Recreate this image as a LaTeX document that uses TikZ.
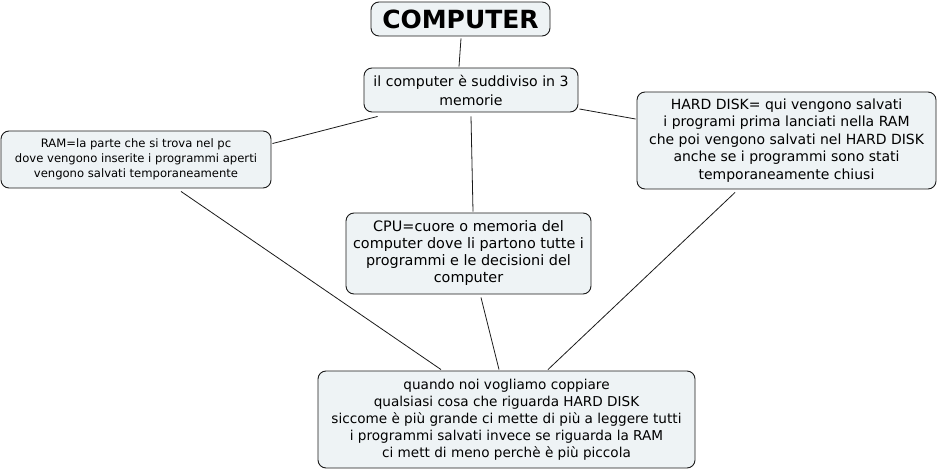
\documentclass[tikz,border=0pt]{standalone}
\usepackage{fontspec}
\setmainfont{DejaVu Sans}
\definecolor{boxfill}{HTML}{EEF3F5}
\definecolor{linec}{HTML}{1A1A1A}
\tikzset{
  mbox/.style={draw=linec, line width=0.9pt, fill=boxfill, rounded corners=8pt, align=center, inner sep=0pt, anchor=center},
  conn/.style={draw=linec, line width=0.8pt}
}
\begin{document}
\begin{tikzpicture}[x=1pt,y=-1pt]
\useasboundingbox (0,0) rectangle (939,470);
\node[mbox, minimum width=179pt, minimum height=34pt, font=\fontsize{25}{27}\selectfont\bfseries] (title) at (460.5,19)
  {COMPUTER};
\node[mbox, minimum width=214pt, minimum height=44pt, font=\fontsize{14.1}{19}\selectfont] (ilcomp) at (471,90)
  {il computer è suddiviso in 3\\memorie};
\node[mbox, minimum width=270pt, minimum height=57pt, font=\fontsize{11.6}{15}\selectfont] (ram) at (136,159.5)
  {RAM=la parte che si trova nel pc\\dove vengono inserite i programmi aperti\\vengono salvati temporaneamente};
\node[mbox, minimum width=299pt, minimum height=97pt, font=\fontsize{14}{17.5}\selectfont] (hd) at (786.5,140.5)
  {HARD DISK= qui vengono salvati\\i programi prima lanciati nella RAM\\che poi vengono salvati nel HARD DISK\\anche se i programmi sono stati\\temporaneamente chiusi};
\node[mbox, minimum width=245pt, minimum height=81pt, font=\fontsize{14.4}{17}\selectfont] (cpu) at (468.5,253.5)
  {CPU=cuore o memoria del\\computer dove li partono tutte i\\programmi e le decisioni del\\computer};
\node[mbox, minimum width=377pt, minimum height=97pt, font=\fontsize{13.6}{17}\selectfont] (bot) at (506.5,419.5)
  {quando noi vogliamo coppiare\\qualsiasi cosa che riguarda HARD DISK\\siccome è più grande ci mette di più a leggere tutti\\i programmi salvati invece se riguarda la RAM\\ci mett di meno perchè è più piccola};
\draw[conn] ([xshift=0.5pt,yshift=-2pt]title.south) -- ([xshift=-12pt,yshift=1pt]ilcomp.north);
\draw[conn] ([xshift=14pt,yshift=-4pt]ilcomp.south west) -- ([xshift=1pt,yshift=-13pt]ram.north east);
\draw[conn] ([yshift=-4pt]ilcomp.south) -- ([xshift=4.5pt,yshift=1pt]cpu.north);
\draw[conn] ([xshift=1pt,yshift=-19pt]ilcomp.east) -- ([xshift=-1pt,yshift=21.5pt]hd.west);
\draw[conn] ([xshift=45pt,yshift=-3pt]ram.south) -- ([xshift=-65.5pt,yshift=1pt]bot.north);
\draw[conn] ([xshift=12.5pt,yshift=-3pt]cpu.south) -- ([xshift=-7.5pt,yshift=1pt]bot.north);
\draw[conn] ([xshift=-51.5pt,yshift=-3pt]hd.south) -- ([xshift=41.5pt,yshift=1pt]bot.north);
\end{tikzpicture}
\end{document}
